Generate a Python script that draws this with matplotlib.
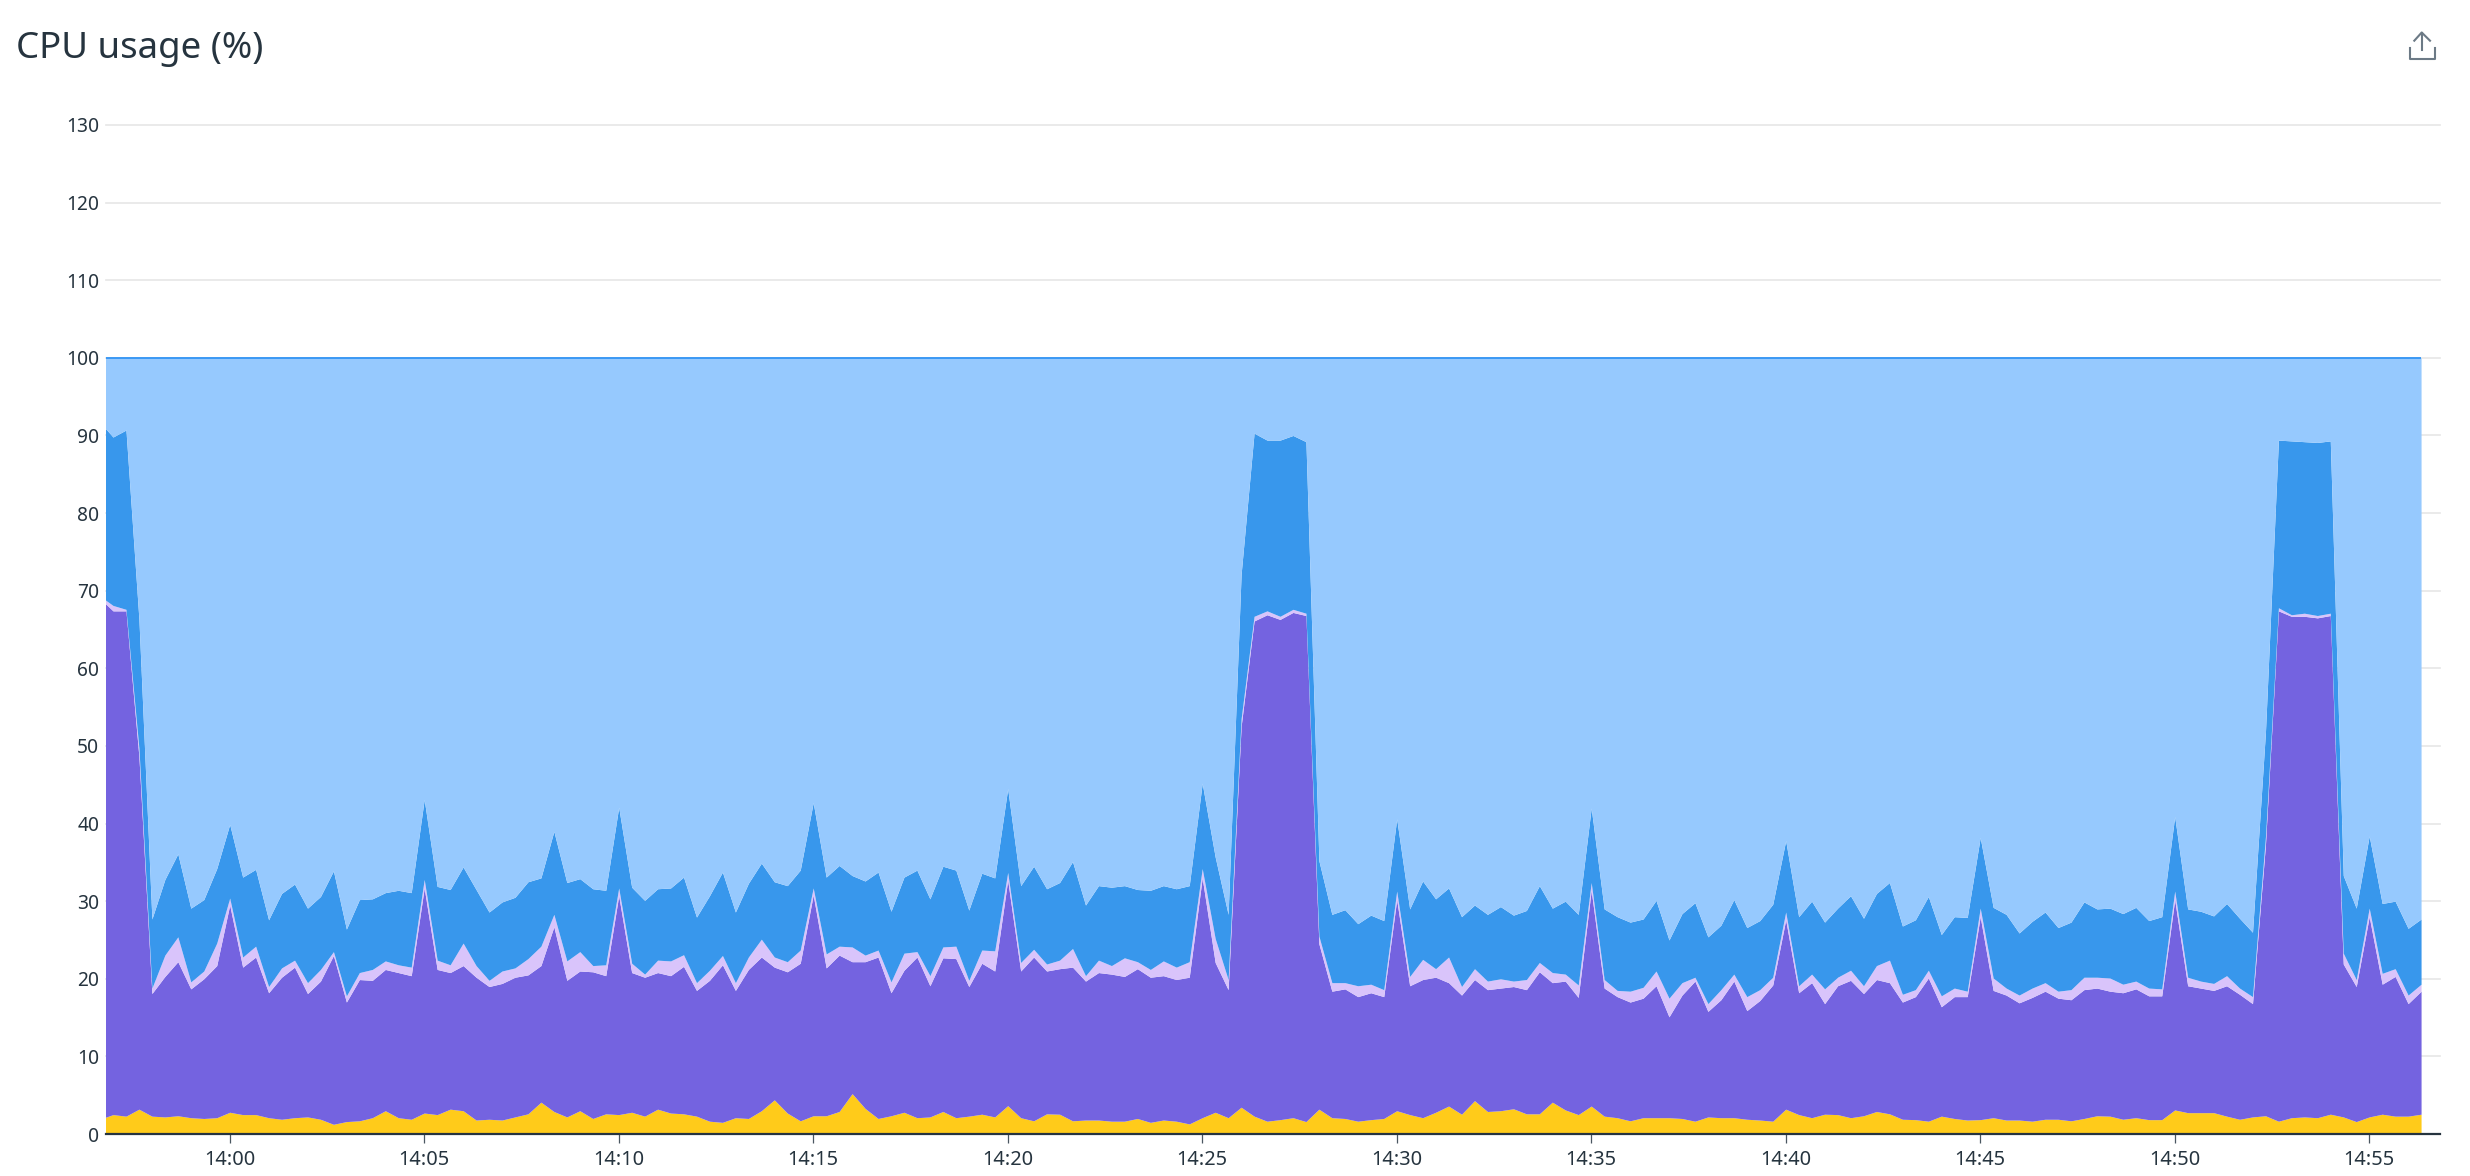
import matplotlib
matplotlib.use("Agg")
import matplotlib.pyplot as plt
import numpy as np
from matplotlib.lines import Line2D

plt.rcParams["font.family"] = ["Noto Sans", "DejaVu Sans"]

W, H = 2470, 1176

# top edge of each stacked band, one sample every 20 s, first sample at 13:56:40
yellow_top = [
    1.9, 2.5, 2.3, 3.2, 2.3, 2.2, 2.35, 2.1, 2.0, 2.1,
    2.8, 2.5, 2.5, 2.1, 1.9, 2.1, 2.2, 1.9, 1.25, 1.6, 1.7, 2.1, 3.0, 2.1, 1.9,
    2.7, 2.5, 3.2, 3.0, 1.8, 1.9, 1.8, 2.2, 2.6, 4.1, 2.9, 2.2, 3.0, 2.0, 2.6,
    2.5, 2.8, 2.3, 3.2, 2.7, 2.6, 2.3, 1.65, 1.5, 2.1, 2.0, 3.0, 4.4, 2.7, 1.7,
    2.35, 2.35, 2.9, 5.2, 3.3, 2.0, 2.35, 2.8, 2.1, 2.2, 2.9, 2.1, 2.3, 2.55, 2.2,
    3.65, 2.1, 1.7, 2.6, 2.55, 1.7, 1.8, 1.8, 1.65, 1.65, 2.0, 1.5, 1.8, 1.65, 1.3,
    2.1, 2.8, 2.1, 3.45, 2.3, 1.65, 1.85, 2.1, 1.6, 3.2, 2.1, 2.0, 1.65, 1.85, 2.0,
    3.0, 2.5, 2.1, 2.8, 3.6, 2.55, 4.3, 2.9, 3.0, 3.25, 2.6, 2.6, 4.1, 3.1, 2.5,
    3.6, 2.3, 2.1, 1.7, 2.1, 2.1, 2.1, 2.0, 1.65, 2.2, 2.1, 2.1, 1.9, 1.8, 1.65,
    3.2, 2.5, 2.1, 2.55, 2.5, 2.1, 2.35, 2.9, 2.6, 1.9, 1.85, 1.65, 2.3, 2.0, 1.8,
    1.85, 2.1, 1.8, 1.8, 1.65, 1.9, 1.9, 1.7, 2.0, 2.35, 2.3, 1.9, 2.1, 1.85, 1.85,
    3.1, 2.75, 2.75, 2.75, 2.3, 1.9, 2.2, 2.35, 1.65, 2.1, 2.2, 2.1, 2.55, 2.2, 1.6,
    2.2, 2.55, 2.3, 2.3, 2.55,
]
purple_top = [
    69.0, 67.4, 67.4, 48.6, 18.1, 20.3, 22.2, 18.7, 20.0, 21.7,
    29.5, 21.5, 22.8, 18.2, 20.2, 21.5, 18.1, 19.7, 23.0, 17.0, 19.9, 19.8, 21.2, 20.8, 20.4,
    31.7, 21.2, 20.8, 21.7, 20.2, 19.0, 19.4, 20.2, 20.5, 21.7, 26.7, 19.8, 21.0, 20.9, 20.4,
    30.7, 20.8, 20.2, 20.8, 20.4, 21.6, 18.5, 19.8, 21.8, 18.5, 21.2, 22.8, 21.5, 20.9, 22.0,
    30.8, 21.4, 23.05, 22.2, 22.2, 22.8, 18.2, 21.1, 22.8, 19.1, 22.7, 22.6, 19.0, 22.0, 21.0,
    32.7, 21.0, 22.8, 21.0, 21.3, 21.5, 19.7, 20.8, 20.6, 20.3, 21.3, 20.2, 20.4, 19.9, 20.2,
    33.0, 22.1, 18.6, 52.5, 66.1, 66.9, 66.3, 67.2, 66.8, 24.5, 18.4, 18.7, 17.7, 18.2, 17.7,
    30.2, 19.1, 19.9, 20.2, 19.5, 17.9, 19.9, 18.6, 18.8, 19.0, 18.6, 20.9, 19.5, 19.7, 17.6,
    31.4, 18.8, 17.7, 17.0, 17.5, 19.1, 15.1, 17.9, 19.7, 15.8, 17.3, 19.7, 15.9, 17.2, 19.2,
    27.6, 18.2, 19.5, 16.8, 19.1, 19.8, 18.1, 19.9, 19.5, 17.0, 17.7, 20.1, 16.4, 17.7, 17.7,
    28.0, 18.5, 17.9, 16.9, 17.6, 18.4, 17.5, 17.3, 18.6, 18.8, 18.4, 18.2, 18.7, 17.8, 17.8,
    30.2, 19.1, 18.8, 18.5, 19.1, 18.0, 16.8, 37.3, 67.4, 66.7, 66.7, 66.5, 66.8, 21.9, 19.0,
    28.0, 19.3, 20.3, 16.8, 18.4,
]
lilac_top = [
    69.3, 68.1, 67.6, 49.7, 18.8, 23.05, 25.4, 19.6, 21.0, 24.6,
    30.4, 22.8, 24.2, 19.0, 21.4, 22.4, 19.5, 21.2, 23.5, 17.8, 20.8, 21.2, 22.3, 21.8, 21.5,
    32.8, 22.4, 21.8, 24.6, 21.7, 19.8, 21.0, 21.4, 22.6, 24.2, 28.3, 22.3, 23.5, 21.7, 21.8,
    31.7, 22.0, 20.6, 22.4, 22.3, 23.1, 19.5, 21.1, 23.0, 19.5, 22.8, 25.1, 22.8, 22.2, 23.7,
    31.7, 23.2, 24.2, 24.1, 23.05, 23.7, 19.6, 23.3, 23.5, 20.4, 24.1, 24.2, 19.8, 23.7, 23.6,
    33.7, 22.1, 23.8, 21.9, 22.4, 23.9, 20.4, 22.4, 21.7, 22.7, 22.2, 21.2, 22.3, 21.5, 22.2,
    34.2, 25.2, 19.9, 53.5, 66.7, 67.4, 66.7, 67.6, 67.1, 25.5, 19.5, 19.5, 19.1, 19.3, 18.6,
    31.3, 20.3, 22.5, 21.3, 22.8, 19.0, 21.3, 19.7, 20.0, 19.7, 19.9, 22.1, 20.8, 20.6, 19.2,
    32.4, 19.9, 18.5, 18.4, 18.9, 21.0, 17.5, 19.5, 20.2, 16.8, 18.6, 20.6, 17.7, 18.6, 20.2,
    28.6, 19.1, 20.6, 18.7, 20.2, 21.1, 19.1, 21.7, 22.4, 18.0, 18.6, 21.1, 17.8, 18.8, 18.4,
    29.1, 20.1, 18.8, 17.9, 18.8, 19.5, 18.4, 18.6, 20.2, 20.2, 20.1, 19.3, 19.7, 18.8, 18.7,
    31.3, 20.2, 19.7, 19.4, 20.4, 18.8, 17.7, 38.3, 67.8, 66.9, 67.1, 66.8, 67.1, 23.3, 19.9,
    29.1, 20.7, 21.3, 17.9, 19.3,
]
blue_top = [
    91.7, 89.8, 90.7, 66.3, 27.7, 32.8, 36.1, 29.1, 30.2, 34.2,
    39.9, 33.1, 34.1, 27.6, 31.0, 32.2, 29.1, 30.6, 33.9, 26.4, 30.2, 30.3, 31.1, 31.4, 31.1,
    43.1, 31.9, 31.5, 34.4, 31.5, 28.6, 29.9, 30.5, 32.5, 33.0, 39.0, 32.4, 32.9, 31.6, 31.4,
    42.1, 31.8, 30.1, 31.6, 31.7, 33.1, 27.95, 30.7, 33.75, 28.6, 32.3, 34.9, 32.5, 32.0, 34.0,
    42.7, 33.1, 34.6, 33.3, 32.6, 33.75, 28.7, 33.1, 34.0, 30.3, 34.5, 34.0, 28.85, 33.6, 33.0,
    44.5, 32.0, 34.5, 31.6, 32.4, 35.1, 29.5, 32.0, 31.8, 32.0, 31.5, 31.4, 32.0, 31.6, 32.0,
    45.2, 35.7, 28.3, 72.1, 90.3, 89.4, 89.4, 90.0, 89.2, 35.2, 28.3, 28.9, 27.1, 28.2, 27.5,
    40.6, 29.0, 32.6, 30.3, 31.7, 28.0, 29.5, 28.3, 29.3, 28.2, 28.8, 32.0, 29.1, 30.0, 28.3,
    42.0, 29.0, 28.0, 27.3, 27.7, 30.1, 25.0, 28.4, 29.8, 25.4, 26.9, 30.2, 26.6, 27.5, 29.6,
    37.8, 28.0, 30.0, 27.3, 29.1, 30.7, 27.8, 31.0, 32.4, 26.8, 27.6, 30.6, 25.7, 28.0, 27.9,
    38.2, 29.2, 28.3, 25.9, 27.4, 28.6, 26.6, 27.3, 29.9, 29.0, 29.1, 28.4, 29.2, 27.5, 28.0,
    40.9, 29.0, 28.7, 28.1, 29.7, 27.8, 26.0, 51.8, 89.4, 89.3, 89.2, 89.1, 89.3, 33.3, 29.1,
    38.4, 29.7, 30.0, 26.5, 27.7,
]

y_ticks = list(range(0, 131, 10))
x_tick_minutes = list(range(0, 56, 5))
x_tick_labels = [f"14:{m:02d}" for m in x_tick_minutes]
title = "CPU usage (%)"

TEXT = "#26343f"
YELLOW = "#ffcb1a"
PURPLE = "#7463e0"
LILAC = "#d9c4fb"
BLUE = "#3897ec"
LIGHT_BLUE = "#96c9fe"

minutes = np.arange(len(blue_top)) / 3 - 10 / 3
full = np.full(len(blue_top), 100.0)

fig = plt.figure(figsize=(W / 100, H / 100), dpi=100, facecolor="white")
ax = fig.add_axes([106 / W, 1 - 1134 / H, 2334 / W, 1009 / H])

bands = [
    (np.zeros(len(full)), yellow_top, YELLOW),
    (yellow_top, purple_top, PURPLE),
    (purple_top, lilac_top, LILAC),
    (lilac_top, blue_top, BLUE),
    (blue_top, full, LIGHT_BLUE),
]
for lower, upper, colour in bands:
    ax.fill_between(minutes, lower, upper, color=colour, lw=0, zorder=2)
ax.plot(minutes, full, color="#2f93f5", lw=1.3, zorder=3, solid_capstyle="butt")

ax.set_xlim(-3.18, 56.82)
ax.set_ylim(0, 130)
ax.set_yticks(y_ticks)
ax.set_xticks(x_tick_minutes, x_tick_labels)
ax.grid(axis="y", color="#e6e6e6", lw=1.2, clip_on=False, zorder=1)
ax.set_axisbelow(True)
for name in ["top", "right", "left"]:
    ax.spines[name].set_visible(False)
ax.spines["bottom"].set_color("#26343f")
ax.spines["bottom"].set_linewidth(1.6)
ax.spines["bottom"].set_zorder(5)
ax.tick_params(axis="y", length=0, pad=5, labelsize=13.8, labelcolor=TEXT)
ax.tick_params(axis="x", length=6.5, width=0.9, color="#4a5761", pad=5,
               labelsize=14.4, labelcolor=TEXT)

fig.text(16 / W, 1 - 49 / H, title, fontsize=26.4, color=TEXT, ha="left", va="center")

# share icon, top right corner
icon = "#6c7a86"
icon_paths = [
    ([2421.7, 2421.7], [32.5, 49.5]),
    ([2414.3, 2421.7, 2430], [40.7, 32.5, 40.7]),
    ([2409.5, 2409.5, 2435, 2435], [47.7, 58.7, 58.7, 47.7]),
]
for xs, ys in icon_paths:
    fig.add_artist(Line2D(np.array(xs) / W, 1 - np.array(ys) / H,
                          transform=fig.transFigure, color=icon, lw=1.5))

fig.savefig("out.png", dpi=100)
